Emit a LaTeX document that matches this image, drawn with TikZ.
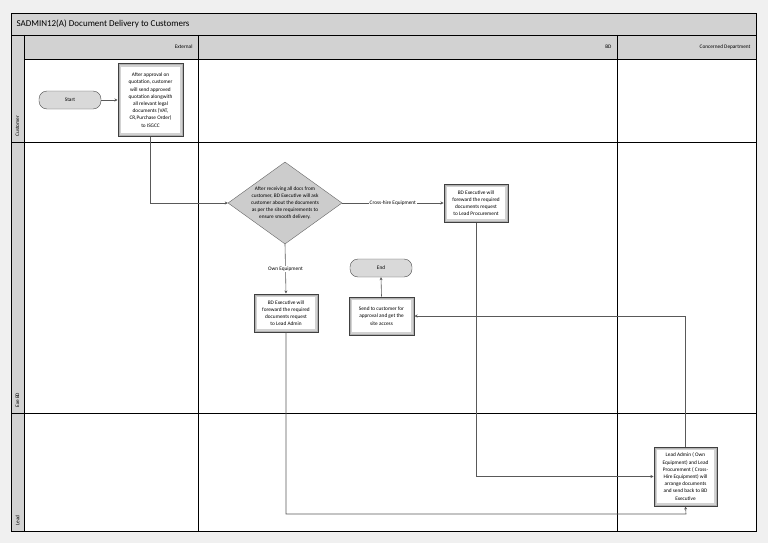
\documentclass[tikz,border=0pt]{standalone}
\usepackage{fontspec}
\setmainfont{Carlito}
\usetikzlibrary{shapes.geometric,arrows.meta}
\begin{document}
\begin{tikzpicture}[x=1pt,y=-1pt,
 lane/.style={draw=black,line width=0.7pt},
 hdr/.style={fill=gray!35},
 proc/.style={draw=black!75,line width=1pt,fill=white,minimum width=#1,align=center,font=\fontsize{5.3}{7.2}\selectfont,inner sep=1pt,
   path picture={\draw[gray!35,line width=6pt] (path picture bounding box.south west) rectangle (path picture bounding box.north east);
                 \draw[gray!60,line width=3pt] (path picture bounding box.south west) rectangle (path picture bounding box.north east);}},
 term/.style={draw=black!70,fill=gray!30,rounded corners=8pt,minimum width=62pt,minimum height=18pt,font=\fontsize{5.3}{6.5}\selectfont},
 conn/.style={draw=gray!70!black,line width=0.6pt,-{Stealth[length=3pt,width=3pt]}},
 lbl/.style={fill=white,inner sep=1pt,font=\fontsize{5.3}{6.5}\selectfont}]
\useasboundingbox (0,0) rectangle (768,543);
\fill[gray!12] (0,0) rectangle (768,543);
\fill[white] (11,13) rectangle (756,531);
\fill[hdr] (11,13) rectangle (756,35);
\fill[hdr] (24,35) rectangle (756,59);
\fill[hdr] (11,35) rectangle (24,531);
\draw[lane] (11,13) rectangle (756,531);
\draw[lane] (11,35) -- (756,35);
\draw[lane] (24,35) -- (24,531);
\draw[lane] (24,59) -- (756,59);
\draw[lane] (11,142) -- (756,142);
\draw[lane] (11,413) -- (756,413);
\draw[lane] (198,35) -- (198,531);
\draw[lane] (617,35) -- (617,531);
\node[anchor=west,font=\fontsize{9}{10}\selectfont] (title) at (13,24) {SADMIN12(A) Document Delivery to Customers};
\node[anchor=east,font=\fontsize{5.3}{6}\selectfont] (c1) at (196,47) {External};
\node[anchor=east,font=\fontsize{5.3}{6}\selectfont] (c2) at (615,47) {BD};
\node[anchor=east,font=\fontsize{5.3}{6}\selectfont] (c3) at (754,47) {Concerned Department};
\node[rotate=90,anchor=west,font=\fontsize{5.3}{6}\selectfont] (r1) at (17.5,140) {Customer};
\node[rotate=90,anchor=west,font=\fontsize{5.3}{6}\selectfont] (r2) at (17.5,411) {Exe BD};
\node[rotate=90,anchor=west,font=\fontsize{5.3}{6}\selectfont] (r3) at (17.5,529) {Lead};
\node[term] (start) at (70,100) {Start};
\node[proc=65pt,minimum height=72pt] (b1) at (150.5,100) {After approval on\\quotation, customer\\will send approved\\quotation alongwith\\all relevant legal\\documents (VAT,\\CR,Purchase Order)\\to ISGCC};
\node[diamond,draw=black!60,fill=gray!40,minimum width=114pt,minimum height=82pt,inner sep=0pt] (dec) at (285,203) {};
\node[align=center,font=\fontsize{5.3}{7.2}\selectfont] (dect) at (285,203) {After receiving all docs from\\customer, BD Executive will ask\\customer about the documents\\as per the site requirements to\\ensure smooth delivery.};
\node[proc=64pt,minimum height=38pt] (cross) at (476,203) {BD Executive will\\foreward the required\\documents request\\to Lead Procurement};
\node[proc=64pt,minimum height=38pt] (own) at (286,313) {BD Executive will\\foreward the required\\documents request\\to Lead Admin};
\node[term] (end) at (381,268) {End};
\node[proc=65pt,minimum height=38pt] (send) at (381.5,316) {Send to customer for\\approval and get the\\site access};
\node[proc=63pt,minimum height=59pt] (lead) at (685.5,476.5) {Lead Admin ( Own\\Equipment) and Lead\\Procurement ( Cross-\\Hire Equipment) will\\arrange documents\\and send back to BD\\Executive};
\draw[conn] (start) -- (b1);
\draw[conn] (b1.south) |- (dec.west);
\draw[conn] (dec.east) -- node[lbl] {Cross-hire Equipment} (cross.west);
\draw[conn] (dec.south) -- node[lbl,pos=0.5] {Own Equipment} (own.north);
\draw[conn] (cross.south) |- (lead.west);
\draw[conn] (own.south) |- (686,514) -- (lead.south);
\draw[conn] (lead.north) |- (send.east);
\draw[conn] (send.north) -- (end.south);
\end{tikzpicture}
\end{document}
